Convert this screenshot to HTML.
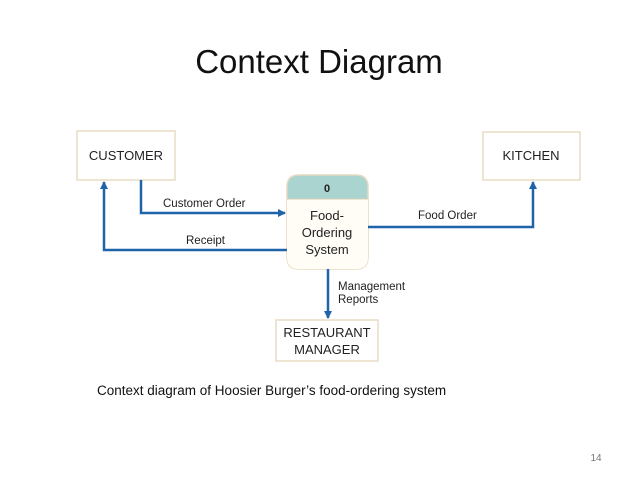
<!DOCTYPE html>
<html><head><style>
body{margin:0;width:638px;height:478px;background:#fff;overflow:hidden;font-family:"Liberation Sans",sans-serif;}
</style></head><body>
<svg width="638" height="478" xmlns="http://www.w3.org/2000/svg" font-family="Liberation Sans, sans-serif">
<defs><marker id="a" markerWidth="8" markerHeight="8" refX="7" refY="4" orient="auto" markerUnits="userSpaceOnUse"><path d="M0,0 L8,4 L0,8 Z" fill="#1f64a8"/></marker></defs>
<text x="319" y="73" font-size="33" text-anchor="middle" fill="#111">Context Diagram</text>
<rect x="77" y="131" width="98" height="49" fill="#fff" stroke="#e8dcc4" stroke-width="1.5"/>
<text x="126" y="160" font-size="13" text-anchor="middle" fill="#222">CUSTOMER</text>
<rect x="483" y="132" width="97" height="48" fill="#fff" stroke="#e8dcc4" stroke-width="1.5"/>
<text x="531" y="160" font-size="13" text-anchor="middle" fill="#222">KITCHEN</text>
<rect x="276" y="320" width="102" height="41" fill="#fff" stroke="#e8dcc4" stroke-width="1.5"/>
<text x="327" y="337" font-size="13" text-anchor="middle" fill="#222">RESTAURANT</text>
<text x="327" y="354" font-size="13" text-anchor="middle" fill="#222">MANAGER</text>
<path d="M287,199 V187 Q287,175 299,175 H356 Q368,175 368,187 V199 Z" fill="#a9d4d0"/>
<path d="M287,175 M299,175 H356 Q368,175 368,187 V257 Q368,269 356,269 H299 Q287,269 287,257 V187 Q287,175 299,175 Z" fill="#fffdf5" fill-opacity="0" stroke="#e6d9bf" stroke-width="1.5"/>
<path d="M287,199 V257 Q287,269 299,269 H356 Q368,269 368,257 V199 Z" fill="#fffdf6"/>
<line x1="287" y1="199" x2="368" y2="199" stroke="#d8cfb5"/>
<text x="327" y="192" font-size="11" font-weight="bold" text-anchor="middle" fill="#222">0</text>
<text x="327" y="220" font-size="13" text-anchor="middle" fill="#222">Food-</text>
<text x="327" y="237" font-size="13" text-anchor="middle" fill="#222">Ordering</text>
<text x="327" y="254" font-size="13" text-anchor="middle" fill="#222">System</text>
<g stroke="#1f64a8" stroke-width="2.5" fill="none">
<polyline points="141,180 141,213 285,213" marker-end="url(#a)"/>
<polyline points="287,250 104,250 104,182" marker-end="url(#a)"/>
<polyline points="368,227 533,227 533,182" marker-end="url(#a)"/>
<polyline points="328,269 328,318" marker-end="url(#a)"/>
</g>
<g font-size="11.5" fill="#222">
<text x="163" y="207">Customer Order</text>
<text x="186" y="244">Receipt</text>
<text x="418" y="219">Food Order</text>
<text x="338" y="290">Management</text>
<text x="338" y="303">Reports</text>
</g>
<text x="97" y="395" font-size="13.5" fill="#111">Context diagram of Hoosier Burger’s food-ordering system</text>
<text x="596" y="461" font-size="10" text-anchor="middle" fill="#777">14</text>
</svg>
</body></html>
